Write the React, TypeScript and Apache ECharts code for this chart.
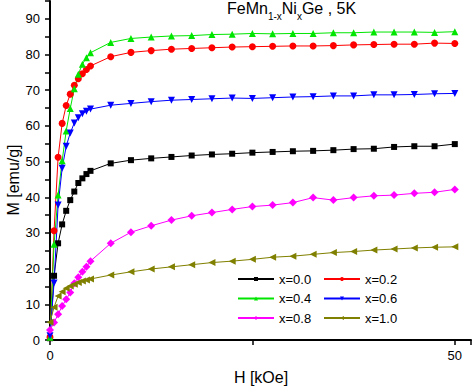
import React, { useEffect, useRef } from 'react';
import * as echarts from 'echarts';

// Field values H [kOe]
const H = [0, 0.5, 1, 1.5, 2, 2.5, 3, 3.5, 4, 4.5, 5, 7.5, 10, 12.5, 15, 17.5, 20, 22.5, 25, 27.5, 30, 32.5, 35, 37.5, 40, 42.5, 45, 47.5, 50];

// Magnetization M [emu/g] for each composition
const M_00 = [0.5, 18.0, 27.1, 32.4, 36.2, 39.2, 41.6, 44.0, 45.3, 46.5, 47.4, 49.5, 50.4, 50.9, 51.3, 51.7, 52.0, 52.2, 52.5, 52.7, 52.9, 53.0, 53.2, 53.5, 53.6, 54.1, 54.3, 54.3, 54.9];
const M_02 = [0.8, 30.6, 51.2, 60.7, 65.7, 68.9, 71.4, 73.2, 74.6, 75.8, 76.8, 79.4, 80.6, 81.1, 81.5, 81.7, 81.9, 82.1, 82.2, 82.3, 82.4, 82.4, 82.5, 82.7, 82.8, 82.9, 82.9, 83.2, 83.1];
const M_04 = [0.8, 26.8, 40.6, 50.2, 58.6, 64.9, 70.4, 74.5, 77.3, 79.1, 80.5, 83.4, 84.5, 84.9, 85.2, 85.3, 85.6, 85.7, 85.9, 85.8, 85.9, 85.9, 86.1, 86.1, 86.3, 86.3, 86.3, 86.2, 86.4];
const M_06 = [1.2, 16.0, 37.8, 48.1, 54.3, 58.0, 60.8, 62.3, 63.4, 64.1, 64.7, 65.8, 66.3, 66.8, 67.2, 67.4, 67.6, 67.8, 67.7, 67.9, 68.1, 68.2, 68.4, 68.4, 68.7, 68.7, 68.8, 69.0, 69.1];
const M_08 = [2.8, 4.9, 7.2, 9.5, 11.4, 13.3, 15.9, 17.6, 19.1, 20.5, 22.1, 27.1, 30.2, 32.0, 33.6, 34.8, 35.7, 36.6, 37.4, 37.8, 38.5, 39.9, 39.2, 39.9, 40.4, 40.6, 41.1, 41.4, 42.2];
const M_10 = [5.0, 9.2, 12.3, 13.5, 14.5, 15.1, 15.6, 16.1, 16.5, 16.8, 17.1, 18.2, 19.1, 19.9, 20.5, 21.1, 21.7, 22.1, 22.6, 23.2, 23.5, 24.0, 24.5, 24.8, 25.2, 25.5, 25.8, 26.0, 26.1];

const NAMES = ['x=0.0', 'x=0.2', 'x=0.4', 'x=0.6', 'x=0.8', 'x=1.0'];
const VALUES = [M_00, M_02, M_04, M_06, M_08, M_10];
const COLORS = ['#000000', '#ff0000', '#00e600', '#0000ff', '#ff00ff', '#808000'];
const SYMBOLS = ['rect', 'circle', 'triangle', 'triangle', 'diamond', 'triangle'];
const ROTATE = [0, 0, 0, 180, 0, 90];
const SIZES = [6, 7, 7, 7, 8, 7];

const FONT = 'Arial, "Liberation Sans", sans-serif';

export default function App() {
  const ref = useRef<HTMLDivElement>(null);
  useEffect(() => {
    const chart = echarts.init(ref.current!, null, { renderer: 'svg' });
    const series = NAMES.map((name, k) => ({
      name,
      type: 'line',
      data: H.map((h, i) => [h, VALUES[k][i]]),
      symbol: SYMBOLS[k],
      symbolSize: SIZES[k],
      symbolRotate: ROTATE[k],
      showSymbol: true,
      lineStyle: { width: 1, color: COLORS[k] },
      itemStyle: { color: COLORS[k] },
      emphasis: { disabled: true },
    }));
    const legendCommon = {
      orient: 'vertical',
      top: 272.5,
      padding: 0,
      itemGap: 6.5,
      itemWidth: 36,
      itemHeight: 5,
      textStyle: { fontSize: 13, color: '#000', fontFamily: FONT },
    };
    chart.setOption({
      animation: false,
      backgroundColor: '#fff',
      textStyle: { fontFamily: FONT },
      grid: { left: 50, right: 1, top: 1, bottom: 47, containLabel: false },
      legend: [
        { ...legendCommon, left: 237, data: ['x=0.0', 'x=0.4', 'x=0.8'] },
        { ...legendCommon, left: 323, data: ['x=0.2', 'x=0.6', 'x=1.0'] },
      ],
      xAxis: {
        type: 'value',
        min: 0,
        max: 52,
        interval: 25,
        axisLine: { show: true, onZero: false, lineStyle: { color: '#000', width: 2 } },
        axisTick: { show: true, length: 5, lineStyle: { color: '#000', width: 1.5 } },
        axisLabel: {
          fontSize: 13,
          color: '#000',
          margin: 9,
          fontFamily: FONT,
          formatter: (v: number) => (v % 50 === 0 ? String(v) : ''),
        },
        splitLine: { show: false },
      },
      yAxis: {
        type: 'value',
        min: 0,
        max: 95,
        interval: 5,
        axisLine: { show: true, onZero: false, lineStyle: { color: '#000', width: 2 } },
        axisTick: { show: true, length: 5, lineStyle: { color: '#000', width: 1.5 } },
        axisLabel: {
          fontSize: 13,
          color: '#000',
          margin: 10,
          fontFamily: FONT,
          formatter: (v: number) => (v % 10 === 0 && v <= 90 ? String(v) : ''),
        },
        splitLine: { show: false },
      },
      graphic: [
        { type: 'text', x: 227, y: 8.5, style: { text: 'FeMn', fontSize: 16, fontFamily: FONT, fill: '#000', verticalAlign: 'middle' } },
        { type: 'text', x: 267.9, y: 16.3, style: { text: '1-x', fontSize: 10, fontFamily: FONT, fill: '#000', verticalAlign: 'middle' } },
        { type: 'text', x: 281.8, y: 8.5, style: { text: 'Ni', fontSize: 16, fontFamily: FONT, fill: '#000', verticalAlign: 'middle' } },
        { type: 'text', x: 296.9, y: 16.3, style: { text: 'x', fontSize: 10, fontFamily: FONT, fill: '#000', verticalAlign: 'middle' } },
        { type: 'text', x: 301.9, y: 8.5, style: { text: 'Ge , 5K', fontSize: 16, fontFamily: FONT, fill: '#000', verticalAlign: 'middle' } },
        { type: 'text', x: 13, y: 180, rotation: Math.PI / 2, style: { text: 'M [emu/g]', fontSize: 16, fontFamily: FONT, fill: '#000', align: 'center', verticalAlign: 'middle' } },
        { type: 'text', x: 261, y: 377, style: { text: 'H [kOe]', fontSize: 16, fontFamily: FONT, fill: '#000', align: 'center', verticalAlign: 'middle' } },
      ],
      series,
    });
    return () => chart.dispose();
  }, []);
  return <div ref={ref} style={{ position: 'fixed', left: 0, top: 0, width: 474, height: 387, background: '#fff' }} />;
}
